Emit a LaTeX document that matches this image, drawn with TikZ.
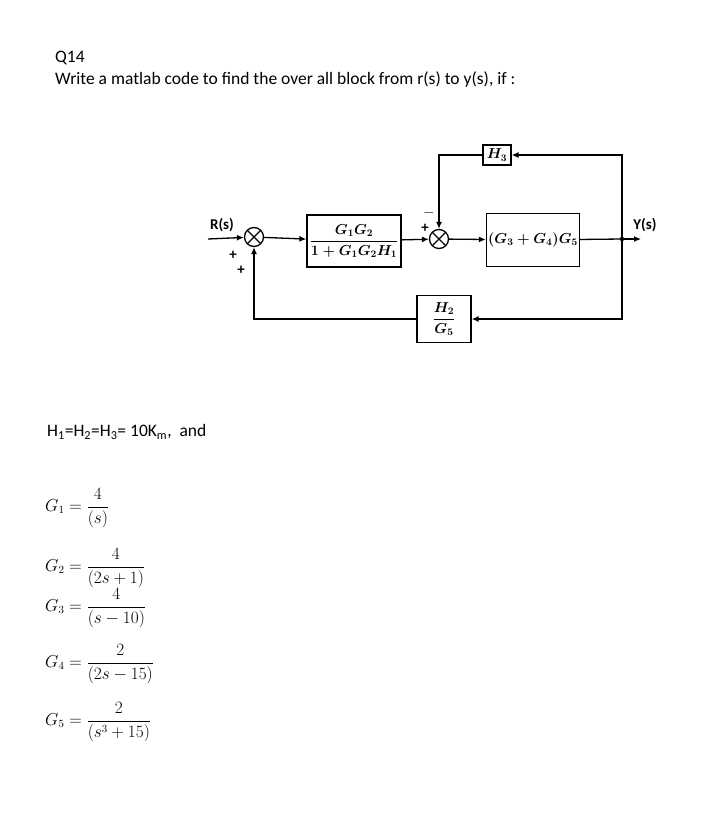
\documentclass[tikz,border=0pt]{standalone}
\usepackage{amsmath}
\usepackage{fontspec}
\setmainfont{Carlito}
\usetikzlibrary{arrows.meta}
\begin{document}
\begin{tikzpicture}[x=1pt,y=-1pt,
  blk/.style={draw,line width=1.3pt,inner sep=0pt,font=\fontsize{14}{16}\selectfont\boldmath},
  sumj/.style={draw,circle,line width=1.3pt,minimum size=19pt,inner sep=0pt,path picture={\draw[line width=1.1pt] (path picture bounding box.north west)--(path picture bounding box.south east) (path picture bounding box.north east)--(path picture bounding box.south west);}},
  sig/.style={line width=1.3pt,-{Latex[length=7pt,width=6pt]}},
  lin/.style={line width=1.3pt},
  sgn/.style={font=\fontsize{15}{17}\selectfont\bfseries},
  txt/.style={anchor=west,font=\fontsize{17.5}{20}\selectfont,inner sep=0pt},
  eq/.style={anchor=west,inner sep=0pt,font=\fontsize{16}{19}\selectfont}]
\useasboundingbox (0,0) rectangle (720,835);
\node[txt] (q) at (55,58) {Q14};
\node[txt] (w) at (55,80) {Write a matlab code to find the over all block from r(s) to y(s), if :};
% diagram
\node[sumj] (s1) at (254,237) {};
\node[blk,minimum width=94pt,minimum height=52pt] (b1) at (354,241) {$\dfrac{G_1G_2}{1+G_1G_2H_1}$};
\node[sumj] (s2) at (439,239) {};
\node[blk,minimum width=93pt,minimum height=53pt] (b2) at (533,240) {$(G_3+G_4)G_5$};
\node[blk,minimum width=28pt,minimum height=20pt] (h3) at (497,155) {$H_3$};
\node[blk,minimum width=54pt,minimum height=47pt] (h2) at (444,319) {$\dfrac{H_2}{G_5}$};
\coordinate (bp) at (622,239);
\coordinate (out) at (641,239);
\coordinate (in) at (208,239);
\node[sgn,anchor=south] (rs) at (222,235) {R(s)};
\node[sgn,anchor=south] (ys) at (645,235) {Y(s)};
\node[sgn] (p1) at (233,255) {+};
\node[sgn] (p2) at (241,270) {+};
\node[sgn] (p3) at (425,228) {+};
\node[sgn] (m1) at (429,213) {$-$};
\fill (bp) circle (2.2pt);
\draw[sig] (in) -- (s1);
\draw[sig] (s1) -- (b1);
\draw[sig] (b1) -- (s2);
\draw[sig] (s2) -- (b2);
\draw[lin] (b2) -- (bp);
\draw[sig] (bp) -- (out);
\draw[sig] (bp) |- (h3);
\draw[sig] (h3) -| (s2);
\draw[sig] (bp) |- (h2);
\draw[sig] (h2) -| (s1);
% text
\node[txt] (h) at (47,432) {H\textsubscript{1}=H\textsubscript{2}=H\textsubscript{3}= 10K\textsubscript{m},\ \ and};
\node[eq] (g1) at (45,508) {$G_1=\dfrac{4}{(s)}$};
\node[eq] (g2) at (45,568) {$G_2=\dfrac{4}{(2s+1)}$};
\node[eq] (g3) at (45,608) {$G_3=\dfrac{4}{(s-10)}$};
\node[eq] (g4) at (45,664) {$G_4=\dfrac{2}{(2s-15)}$};
\node[eq] (g5) at (45,722) {$G_5=\dfrac{2}{(s^3+15)}$};
\end{tikzpicture}
\end{document}
